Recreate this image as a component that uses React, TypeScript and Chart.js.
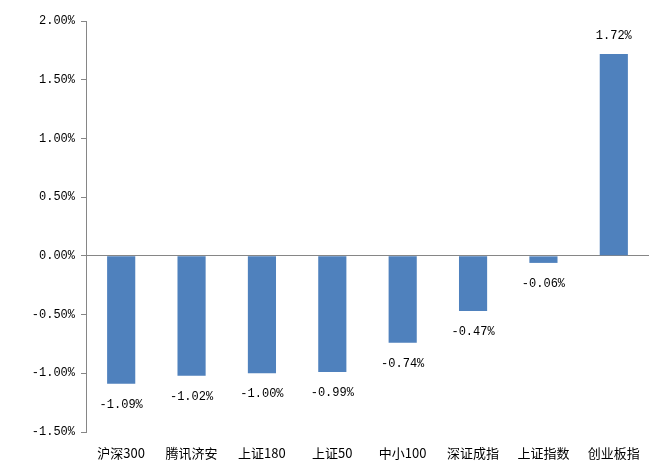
import React, { useEffect, useRef } from "react";
import { Chart, registerables } from "chart.js";

Chart.register(...registerables);

const categories = ["沪深300", "腾讯济安", "上证180", "上证50", "中小100", "深证成指", "上证指数", "创业板指"];
const values = [-1.09, -1.02, -1.0, -0.99, -0.74, -0.47, -0.06, 1.72];
const yTicks = [2.0, 1.5, 1.0, 0.5, 0.0, -0.5, -1.0, -1.5];

const labelPlugin = {
  id: "valueLabels",
  afterDatasetsDraw(chart: any) {
    const { ctx } = chart;
    const meta = chart.getDatasetMeta(0);
    ctx.save();
    ctx.font = "12px 'Liberation Mono', monospace";
    ctx.fillStyle = "#000";
    ctx.textAlign = "center";
    ctx.textBaseline = "middle";
    meta.data.forEach((bar: any, i: number) => {
      const v = values[i];
      const y = v >= 0 ? bar.y - 18 : bar.y + 21;
      ctx.fillText(v.toFixed(2) + "%", bar.x, y);
    });
    ctx.restore();
  },
};

export default function App() {
  const ref = useRef<HTMLCanvasElement>(null);
  useEffect(() => {
    const chart = new Chart(ref.current!, {
      type: "bar",
      data: {
        labels: categories,
        datasets: [
          {
            data: values,
            backgroundColor: "#4F81BD",
            barPercentage: 0.4,
            categoryPercentage: 1.0,
          },
        ],
      },
      options: {
        animation: false,
        responsive: false,
        maintainAspectRatio: false,
        layout: { padding: { top: 21, right: 23, left: 0, bottom: 0 } },
        plugins: { legend: { display: false }, tooltip: { enabled: false } },
        scales: {
          x: {
            grid: { display: false },
            border: { display: false },
            ticks: {
              color: "#000",
              font: { family: "'Noto Sans CJK SC', sans-serif", size: 13 },
              padding: 5,
              maxRotation: 0,
              autoSkip: false,
            },
            afterFit(scale: any) {
              scale.height = 40;
            },
          },
          y: {
            min: -1.5,
            max: 2.0,
            afterBuildTicks(scale: any) {
              scale.ticks = yTicks.slice().reverse().map((v) => ({ value: v }));
            },
            grid: {
              color: (c: any) => (c.tick && c.tick.value === 0 ? "#868686" : "transparent"),
              tickColor: "#868686",
              tickLength: 5,
              drawOnChartArea: true,
            },
            border: { display: true, color: "#868686" },
            ticks: {
              color: "#000",
              font: { family: "'Liberation Mono', monospace", size: 12 },
              padding: 6,
              callback: (v: any) => Number(v).toFixed(2) + "%",
            },
            afterFit(scale: any) {
              scale.width = 86;
            },
          },
        },
      },
      plugins: [labelPlugin],
    });
    return () => chart.destroy();
  }, []);
  return (
    <div style={{ position: "absolute", left: 0, top: 0, width: 672, height: 472 }}>
      <canvas ref={ref} width={672} height={472} style={{ width: 672, height: 472 }} />
    </div>
  );
}
